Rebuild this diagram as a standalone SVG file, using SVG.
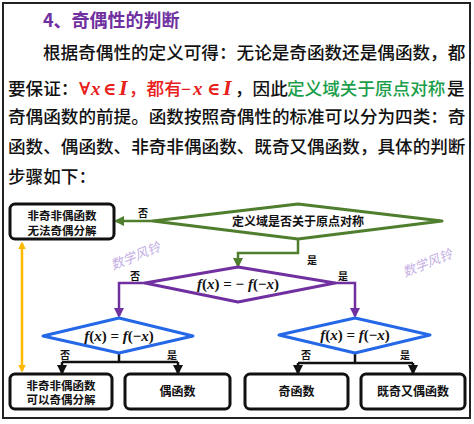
<svg xmlns="http://www.w3.org/2000/svg" width="474" height="424" viewBox="0 0 474 424">
<style>
.cn{font-family:"Noto Sans CJK SC","Noto Sans",sans-serif;}
.para{font-family:"Noto Sans CJK SC",sans-serif;font-size:17.6px;font-weight:500;fill:#111;}
.math{font-family:"Liberation Serif","DejaVu Serif",serif;font-weight:bold;}
.it{font-style:italic;}
.box{fill:#fff;stroke:#111;stroke-width:3;}
.bt{font-family:"Noto Sans CJK SC",sans-serif;font-size:12px;font-weight:bold;fill:#111;text-anchor:middle;}
.bt2{font-family:"Noto Sans CJK SC",sans-serif;font-size:11.5px;font-weight:bold;fill:#111;text-anchor:middle;}
.lbl{font-family:"Noto Sans CJK SC",sans-serif;font-size:10px;font-weight:bold;fill:#111;text-anchor:middle;}
.mt{font-family:"Liberation Serif","DejaVu Serif",serif;font-size:15px;font-weight:bold;fill:#111;text-anchor:middle;}
.wm{font-family:"Noto Sans CJK SC",sans-serif;font-size:13px;fill:#c4aee4;font-style:italic;}
.c{fill:none;stroke-width:2.5;}
</style>
<defs>
<marker id="ag" viewBox="0 0 10 10" refX="8" refY="5" markerWidth="4" markerHeight="4" orient="auto"><path d="M0,0L10,5L0,10z" fill="#4f7f2e"/></marker>
<marker id="ap" viewBox="0 0 10 10" refX="8" refY="5" markerWidth="4" markerHeight="4" orient="auto"><path d="M0,0L10,5L0,10z" fill="#7030a0"/></marker>
<marker id="ak" viewBox="0 0 10 10" refX="8" refY="5" markerWidth="4" markerHeight="4" orient="auto"><path d="M0,0L10,5L0,10z" fill="#111"/></marker>
<marker id="ay" viewBox="0 0 10 10" refX="8" refY="5" markerWidth="3" markerHeight="3" orient="auto-start-reverse"><path d="M0,0L10,5L0,10z" fill="#ffb800"/></marker>
</defs>
<rect x="0" y="0" width="474" height="424" fill="#fff"/>
<rect x="3" y="3" width="467" height="415" fill="#fff" stroke="#222" stroke-width="2"/>

<text class="cn" x="43" y="26.5" font-size="18" font-weight="bold" fill="#7030a0">4、奇偶性的判断</text>

<text class="para" x="43" y="59">根据奇偶性的定义可得：无论是奇函数还是偶函数，都</text>
<text class="para" y="95"><tspan x="8">要保证：</tspan><tspan class="math" fill="#e8201c" x="79">∀</tspan><tspan class="math it" fill="#e8201c" x="91" font-size="19">x</tspan><tspan class="math" fill="#e8201c" x="103" font-size="18">∈</tspan><tspan class="math it" fill="#e8201c" x="119" font-size="22">I</tspan><tspan fill="#e8201c" x="129">，都有</tspan><tspan class="math" fill="#e8201c" x="181">−</tspan><tspan class="math it" fill="#e8201c" x="193" font-size="19">x</tspan><tspan class="math" fill="#e8201c" x="207" font-size="18">∈</tspan><tspan class="math it" fill="#e8201c" x="223" font-size="22">I</tspan><tspan x="235">，因此</tspan><tspan fill="#1a9e4a" x="287">定义域关于原点对称</tspan><tspan x="447">是</tspan></text>
<text class="para" x="8" y="123">奇偶函数的前提。函数按照奇偶性的标准可以分为四类：奇</text>
<text class="para" x="8" y="153">函数、偶函数、非奇非偶函数、既奇又偶函数，具体的判断</text>
<text class="para" x="8" y="183">步骤如下：</text>

<text class="wm" transform="translate(113,270) rotate(-22)">数学风铃</text>
<text class="wm" transform="translate(405,277) rotate(-22)">数学风铃</text>

<g id="connectors">
<path class="c" stroke="#4f7f2e" d="M153,221H116" marker-end="url(#ag)"/>
<path class="c" stroke="#4f7f2e" d="M298,239V253H238V266" marker-end="url(#ag)"/>
<path class="c" stroke="#7030a0" d="M145,283H119V316" marker-end="url(#ap)"/>
<path class="c" stroke="#7030a0" d="M335,283H355V316" marker-end="url(#ap)"/>
<path class="c" stroke="#111" stroke-width="2" d="M119,353V362M62,362H178"/>
<path class="c" stroke="#111" stroke-width="2" d="M62,362V373" marker-end="url(#ak)"/>
<path class="c" stroke="#111" stroke-width="2" d="M178,362V373" marker-end="url(#ak)"/>
<path class="c" stroke="#111" stroke-width="2" d="M355,353V363M298,363H413"/>
<path class="c" stroke="#111" stroke-width="2" d="M298,363V373" marker-end="url(#ak)"/>
<path class="c" stroke="#111" stroke-width="2" d="M413,363V373" marker-end="url(#ak)"/>
<path class="c" stroke="#ffb800" stroke-width="4" d="M22,243V371" marker-start="url(#ay)" marker-end="url(#ay)"/>
<text class="lbl" x="143" y="217">否</text>
<text class="lbl" x="312" y="264">是</text>
<text class="lbl" x="135" y="280">否</text>
<text class="lbl" x="343" y="280">是</text>
<text class="lbl" x="65" y="359">否</text>
<text class="lbl" x="172" y="359">是</text>
<text class="lbl" x="306" y="359">否</text>
<text class="lbl" x="405" y="359">是</text>
</g>

<g id="n-nonodd-top">
<rect class="box" x="10" y="204" width="104" height="35" rx="5"/>
<text class="bt2" x="62" y="220">非奇非偶函数</text>
<text class="bt2" x="62" y="234.5">无法奇偶分解</text>
</g>
<g id="d-domain">
<path d="M153,221L298,204L442,221L298,239Z" fill="#fff" stroke="#4f7f2e" stroke-width="3" stroke-linejoin="round"/>
<text class="bt" x="298" y="225.5" font-size="12.5">定义域是否关于原点对称</text>
</g>
<g id="d-odd">
<path d="M145,283L238,267L335,283L238,302Z" fill="#fff" stroke="#7030a0" stroke-width="3" stroke-linejoin="round"/>
<text class="mt" x="238" y="289"><tspan class="it">f</tspan>(<tspan class="it">x</tspan>) = − <tspan class="it">f</tspan>(−<tspan class="it">x</tspan>)</text>
</g>
<g id="d-even-left">
<path d="M43,336L119,318L193,336L119,353Z" fill="#fff" stroke="#2468e8" stroke-width="3" stroke-linejoin="round"/>
<text class="mt" x="119" y="341"><tspan class="it">f</tspan>(<tspan class="it">x</tspan>) = <tspan class="it">f</tspan>(−<tspan class="it">x</tspan>)</text>
</g>
<g id="d-even-right">
<path d="M279,335L355,318L430,335L355,353Z" fill="#fff" stroke="#2468e8" stroke-width="3" stroke-linejoin="round"/>
<text class="mt" x="355" y="340"><tspan class="it">f</tspan>(<tspan class="it">x</tspan>) = <tspan class="it">f</tspan>(−<tspan class="it">x</tspan>)</text>
</g>
<g id="n-nonodd-bottom">
<rect class="box" x="10" y="374" width="102" height="35" rx="5"/>
<text class="bt2" x="61" y="389.5">非奇非偶函数</text>
<text class="bt2" x="61" y="404">可以奇偶分解</text>
</g>
<g id="n-even">
<rect class="box" x="125" y="374" width="105" height="35" rx="5"/>
<text class="bt" x="177.5" y="396">偶函数</text>
</g>
<g id="n-odd">
<rect class="box" x="245" y="374" width="103" height="35" rx="5"/>
<text class="bt" x="296.5" y="396">奇函数</text>
</g>
<g id="n-both">
<rect class="box" x="361" y="374" width="104" height="35" rx="5"/>
<text class="bt" x="413" y="396">既奇又偶函数</text>
</g>
</svg>
